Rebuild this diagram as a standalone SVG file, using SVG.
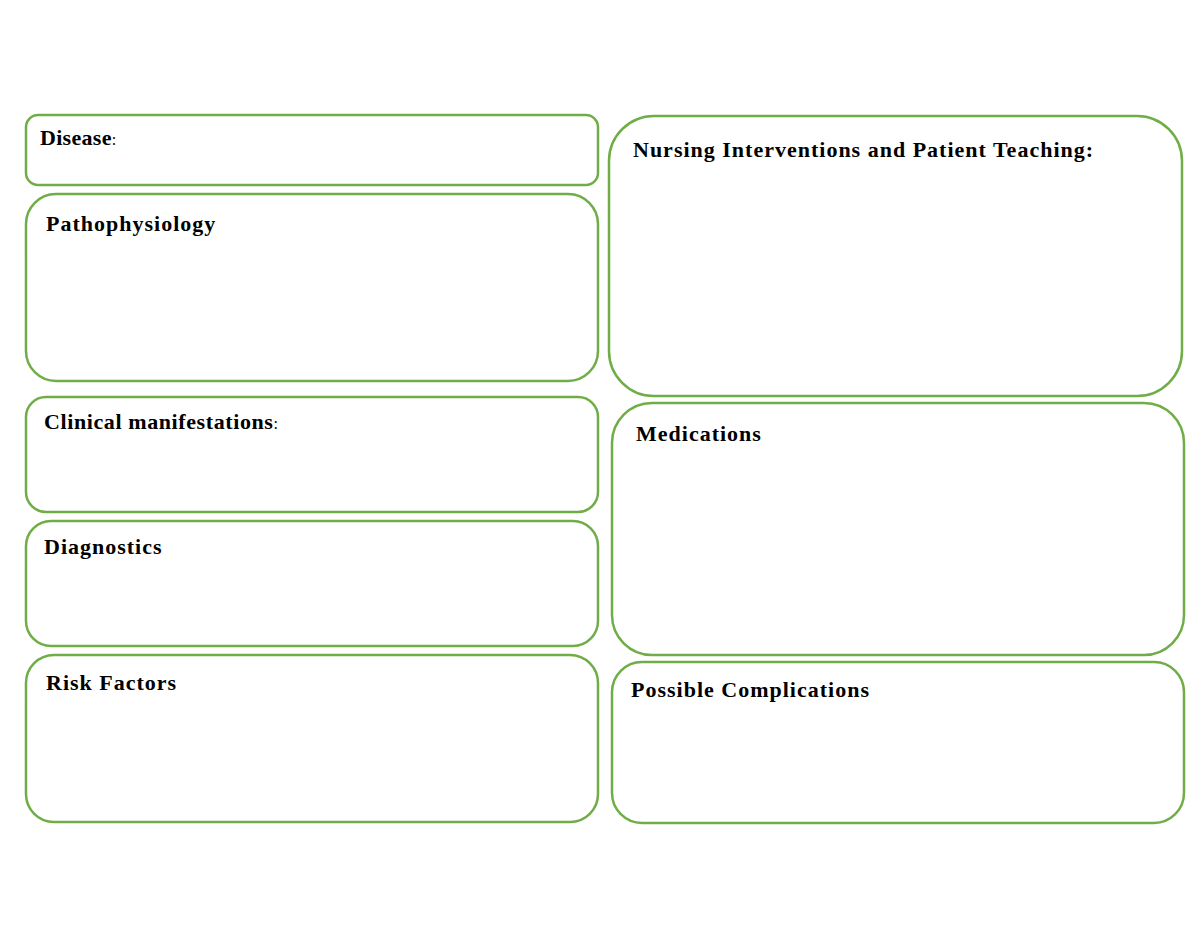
<svg xmlns="http://www.w3.org/2000/svg" width="1200" height="927" viewBox="0 0 1200 927">
<style>
.b{fill:#fff;stroke:#70AD47;stroke-width:2.5}
.t{font-family:"Liberation Serif",serif;font-weight:bold;font-size:22px;letter-spacing:1px;fill:#000}
.n{font-weight:normal;font-size:16px}
</style>
<rect width="1200" height="927" fill="#fff"/>
<g id="disease"><rect class="b" x="26" y="115" width="572" height="70" rx="12"/><text class="t" x="40" y="145" style="letter-spacing:0.3px">Disease<tspan class="n">:</tspan></text></g>
<g id="patho"><rect class="b" x="26" y="194" width="572" height="187" rx="30"/><text class="t" x="46" y="231">Pathophysiology</text></g>
<g id="clinical"><rect class="b" x="26" y="397" width="572" height="115" rx="20"/><text class="t" x="44" y="429" style="letter-spacing:0.6px">Clinical manifestations<tspan class="n">:</tspan></text></g>
<g id="diag"><rect class="b" x="26" y="521" width="572" height="125" rx="25"/><text class="t" x="44" y="554">Diagnostics</text></g>
<g id="risk"><rect class="b" x="26" y="655" width="572" height="167" rx="28"/><text class="t" x="46" y="690">Risk Factors</text></g>
<g id="nursing"><rect class="b" x="609" y="116" width="573" height="280" rx="45"/><text class="t" x="633" y="157">Nursing Interventions and Patient Teaching:</text></g>
<g id="meds"><rect class="b" x="612" y="403" width="572" height="252" rx="40"/><text class="t" x="636" y="441">Medications</text></g>
<g id="comp"><rect class="b" x="612" y="662" width="572" height="161" rx="30"/><text class="t" x="631" y="697">Possible Complications</text></g>
<g id="connectors"/>
</svg>
